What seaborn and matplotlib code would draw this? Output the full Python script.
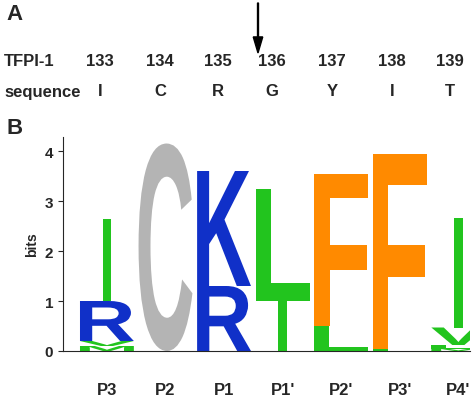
import matplotlib
matplotlib.use("Agg")
import matplotlib.pyplot as plt
import seaborn as sns
from matplotlib.textpath import TextPath
from matplotlib.patches import PathPatch
from matplotlib.font_manager import FontProperties
from matplotlib.transforms import Affine2D

sns.set_style("ticks")
plt.rcParams['font.family'] = ['Liberation Sans', 'DejaVu Sans']

positions = ["P3", "P2", "P1", "P1'", "P2'", "P3'", "P4'"]
residue_numbers = ["133", "134", "135", "136", "137", "138", "139"]
sequence = ["I", "C", "R", "G", "Y", "I", "T"]
# stacks bottom->top: (letter, bits)
stack_P3 = [("M", 0.1), ("V", 0.1), ("R", 0.8), ("I", 1.65)]
stack_P2 = [("C", 4.15)]
stack_P1 = [("R", 1.3), ("K", 2.3)]
stack_P1p = [("I", 1.0), ("L", 2.25)]
stack_P2p = [("L", 0.5), ("F", 3.05)]
stack_P3p = [("L", 0.05), ("F", 3.9)]
stack_P4p = [("M", 0.05), ("L", 0.07), ("V", 0.35), ("I", 2.2)]
stacks = [stack_P3, stack_P2, stack_P1, stack_P1p, stack_P2p, stack_P3p, stack_P4p]

colors = {"I": "#22c41e", "V": "#22c41e", "L": "#22c41e", "M": "#22c41e",
          "R": "#1030c8", "K": "#1030c8", "F": "#ff8a00", "C": "#b4b4b4"}

fig = plt.figure(figsize=(4.74, 4.02), dpi=100)
fp = FontProperties(family="Liberation Sans", weight="bold")

def H(y):  # pixel y -> fig fraction
    return 1 - y / 402

fig.text(6/474, H(14), "A", fontsize=16, fontweight="bold", va="center")
fig.text(6/474, H(128), "B", fontsize=16, fontweight="bold", va="center")
fig.text(4/474, H(62), "TFPI-1", fontsize=12, fontweight="bold", va="center")
fig.text(4/474, H(92), "sequence", fontsize=12, fontweight="bold", va="center")
xs = [100, 160, 218, 272, 332, 392, 450]
for x, n, s in zip(xs, residue_numbers, sequence):
    fig.text(x/474, H(62), n, fontsize=12, fontweight="bold", ha="center", va="center")
    fig.text(x/474, H(92), s, fontsize=12, fontweight="bold", ha="center", va="center")
fig.patches.append(matplotlib.patches.FancyArrow(
    258/474, H(4), 0, -(50/402), width=0.002, head_width=0.02, head_length=0.04,
    length_includes_head=True, color="black", transform=fig.transFigure))

ax = fig.add_axes([63/474, 50/402, 407/474, 214/402])
ax.set_xlim(-0.75, 6.2)
ax.set_ylim(0, 4.28)
width = 0.92
for i, st in enumerate(stacks):
    y0 = 0
    for letter, h in st:
        tp = TextPath((0, 0), letter, size=1, prop=fp)
        ext = tp.get_extents()
        w = 0.15 if letter == "I" else width
        tr = Affine2D().translate(-ext.x0, -ext.y0).scale(w/ext.width, h/ext.height).translate(i - w/2, y0)
        ax.add_patch(PathPatch(tr.transform_path(tp), color=colors[letter], lw=0))
        y0 += h

ax.set_yticks([0, 1, 2, 3, 4])
ax.set_ylabel("bits", fontsize=10, fontweight="bold")
ax.set_xticks(range(7))
ax.set_xticklabels(positions, fontsize=12, fontweight="bold")
ax.tick_params(axis="x", length=0, pad=22)
ax.tick_params(axis="y", labelsize=11)
for t in ax.get_yticklabels():
    t.set_fontweight("bold")
sns.despine(ax=ax, top=True, right=True)
fig.savefig("out.png", dpi=100)
